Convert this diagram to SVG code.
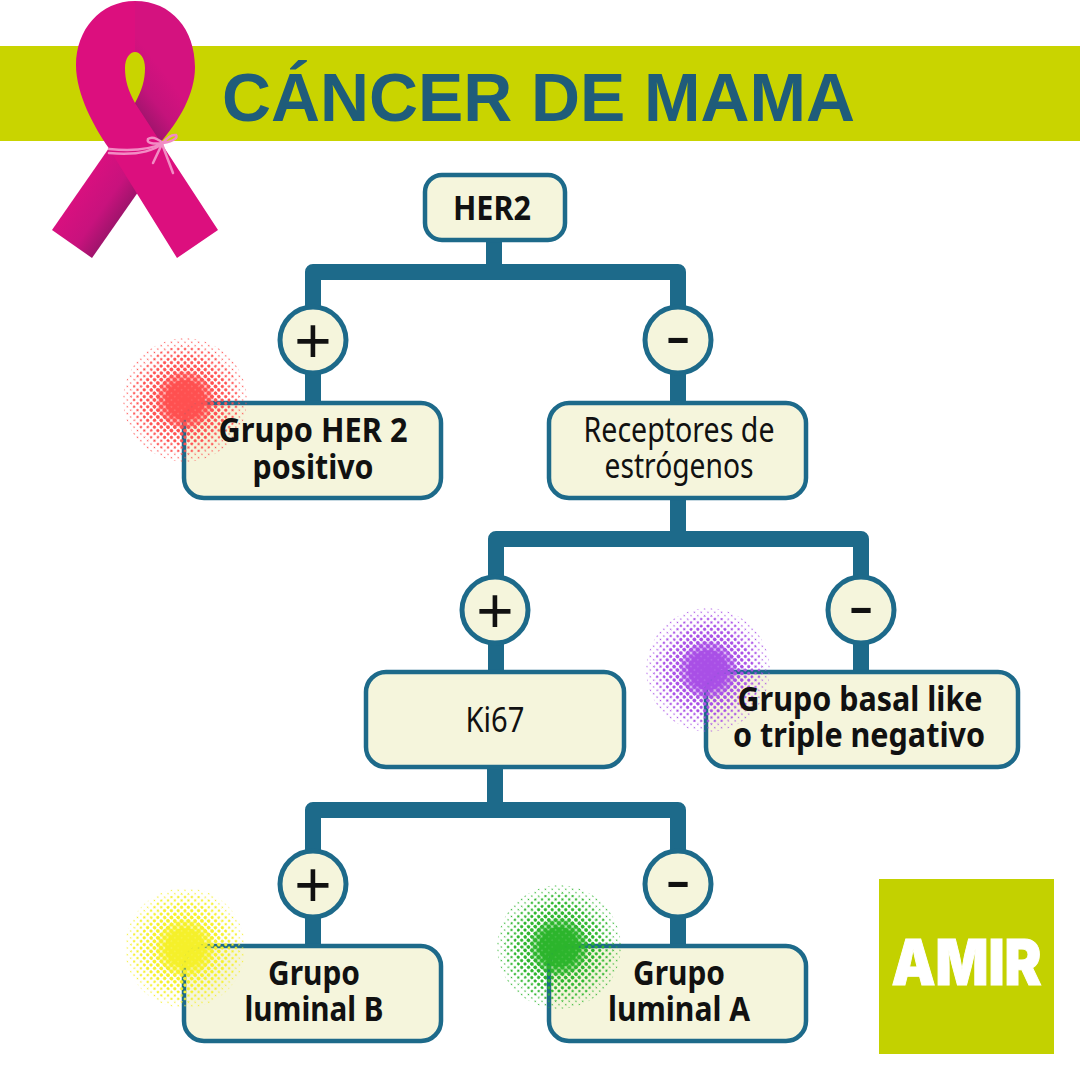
<svg xmlns="http://www.w3.org/2000/svg" width="1080" height="1080" viewBox="0 0 1080 1080">
<style>
.box{fill:#f5f5dc;stroke:#1d6a8a;stroke-width:4.5}
.sign{fill:#f5f5dc;stroke:#1d6a8a;stroke-width:5}
.conn{fill:none;stroke:#1d6a8a;stroke-width:16;stroke-linejoin:round;stroke-linecap:butt}
.t{font-family:"Noto Sans","Open Sans",sans-serif;font-size:34px;fill:#111;text-anchor:middle}
.b{font-weight:700}
.plus{font-family:"Liberation Sans",sans-serif;font-size:64px;fill:#111;text-anchor:middle}
.minus{font-family:"Liberation Sans",sans-serif;font-weight:700;font-size:42px;fill:#111;text-anchor:middle}
</style>
<defs>
<pattern id="d1" width="4.8" height="4.8" patternUnits="userSpaceOnUse" patternTransform="rotate(45)"><circle cx="2.4" cy="2.4" r=".8" fill="#fff"/></pattern>
<pattern id="d2" width="4.8" height="4.8" patternUnits="userSpaceOnUse" patternTransform="rotate(45)"><circle cx="2.4" cy="2.4" r="1.1" fill="#fff"/></pattern>
<pattern id="d3" width="4.8" height="4.8" patternUnits="userSpaceOnUse" patternTransform="rotate(45)"><circle cx="2.4" cy="2.4" r="1.45" fill="#fff"/></pattern>
<pattern id="d4" width="4.8" height="4.8" patternUnits="userSpaceOnUse" patternTransform="rotate(45)"><circle cx="2.4" cy="2.4" r="1.8" fill="#fff"/></pattern>
<pattern id="d5" width="4.8" height="4.8" patternUnits="userSpaceOnUse" patternTransform="rotate(45)"><circle cx="2.4" cy="2.4" r="2.2" fill="#fff"/></pattern>
<pattern id="d6" width="4.8" height="4.8" patternUnits="userSpaceOnUse" patternTransform="rotate(45)"><circle cx="2.4" cy="2.4" r="2.7" fill="#fff"/></pattern>
<radialGradient id="core"><stop offset="0" stop-color="#fff"/><stop offset=".55" stop-color="#fff" stop-opacity=".6"/><stop offset="1" stop-color="#fff" stop-opacity="0"/></radialGradient>
<mask id="ht" maskUnits="userSpaceOnUse" x="-70" y="-70" width="140" height="140">
<circle r="62" fill="url(#d1)"/><circle r="54" fill="url(#d2)"/><circle r="45" fill="url(#d3)"/><circle r="36" fill="url(#d4)"/><circle r="28" fill="url(#d5)"/><circle r="20" fill="url(#d6)"/><circle r="30" fill="url(#core)"/>
</mask>
<linearGradient id="legG" x1="85" y1="180" x2="135" y2="215" gradientUnits="userSpaceOnUse"><stop offset="0" stop-color="#d9107f"/><stop offset=".5" stop-color="#c8127d"/><stop offset="1" stop-color="#8a1563"/></linearGradient>
<linearGradient id="loopG" x1="176" y1="88" x2="132" y2="122" gradientUnits="userSpaceOnUse"><stop offset="0" stop-color="#d4127f"/><stop offset=".45" stop-color="#c4137b"/><stop offset="1" stop-color="#8f1566"/></linearGradient>
</defs>
<rect width="1080" height="1080" fill="#fff"/>
<rect id="banner" x="0" y="46" width="1080" height="95" fill="#c9d400"/>
<text id="title" x="222" y="121" font-family="'Liberation Sans',Arial,sans-serif" font-weight="700" font-size="69" fill="#1f5c7a" textLength="633" lengthAdjust="spacingAndGlyphs">CÁNCER DE MAMA</text>
<g id="ribbon">
<path d="M125,125 L52,230 L92,258 L150,175 Z" fill="url(#legG)"/>
<path d="M135,1 C172,1 195,30 195,67 C195,95 178,122 160,143 L150,150 L120,100 L135,103 C142,90 145,80 145,68 C145,58 140,52 135,52 Z" fill="url(#loopG)"/>
<path d="M135,1 C100,1 76,30 76,65 C76,95 95,128 108,147 L177,258 L218,230 L135,103 C128,90 125,80 125,68 C125,58 130,52 135,52 Z" fill="#dc0f7e"/>
<g fill="none" stroke="#f28cc4" stroke-width="2.5" stroke-linecap="round">
<path d="M109,149 C130,151 150,150 163,143 C175,141 178,137 176,135 C170,134 166,139 163,143 C158,139 152,136 148,139 C146,144 155,144 163,143"/>
<path d="M109,153 C130,155 150,153 162,144"/>
<path d="M162,144 L153,163 M162,144 L173,173"/>
</g>
</g>
<g id="connectors">
<path class="conn" d="M494,240V272M313,402V272H678V402"/>
<path class="conn" d="M678,498V539M496,672V539H861V672"/>
<path class="conn" d="M495,768V810M313,946V810H678V946"/>
</g>
<g id="sign1"><circle class="sign" cx="313" cy="340" r="33"/><text class="plus" x="313" y="362.500">+</text></g>
<g id="sign2"><circle class="sign" cx="678" cy="340" r="33"/><text class="minus" transform="translate(678,352) scale(1.8,1)">-</text></g>
<g id="sign3"><circle class="sign" cx="495" cy="610" r="33"/><text class="plus" x="495" y="632.500">+</text></g>
<g id="sign4"><circle class="sign" cx="861" cy="610" r="33"/><text class="minus" transform="translate(861,622) scale(1.8,1)">-</text></g>
<g id="sign5"><circle class="sign" cx="313" cy="884" r="33"/><text class="plus" x="313" y="906.500">+</text></g>
<g id="sign6"><circle class="sign" cx="678" cy="884" r="33"/><text class="minus" transform="translate(678,896) scale(1.8,1)">-</text></g>
<g id="node-her2"><rect class="box" x="425" y="175" width="140" height="65" rx="17"/><text class="t b" x="492" y="220" textLength="78" lengthAdjust="spacingAndGlyphs">HER2</text></g>
<g id="node-grupo-her2"><rect class="box" x="184" y="403" width="257" height="95" rx="20"/>
<g transform="translate(185,400)"><circle r="62" fill="#ff5050" mask="url(#ht)"/></g>
<text class="t b" x="313" y="442" textLength="189" lengthAdjust="spacingAndGlyphs">Grupo HER 2</text><text class="t b" x="313" y="479" textLength="121" lengthAdjust="spacingAndGlyphs">positivo</text></g>
<g id="node-receptores"><rect class="box" x="549" y="403" width="257" height="95" rx="20"/>
<text class="t" x="679" y="442" textLength="191" lengthAdjust="spacingAndGlyphs">Receptores de</text><text class="t" x="679" y="478" textLength="149" lengthAdjust="spacingAndGlyphs">estrógenos</text></g>
<g id="node-ki67"><rect class="box" x="366" y="672" width="258" height="95" rx="20"/><text class="t" x="495" y="732" textLength="59" lengthAdjust="spacingAndGlyphs">Ki67</text></g>
<g id="node-basal"><rect class="box" x="706" y="672" width="312" height="95" rx="20"/>
<g transform="translate(708,670)"><circle r="62" fill="#a94fe6" mask="url(#ht)"/></g>
<text class="t b" x="860" y="711" textLength="245" lengthAdjust="spacingAndGlyphs">Grupo basal like</text><text class="t b" x="859" y="747" textLength="252" lengthAdjust="spacingAndGlyphs">o triple negativo</text></g>
<g id="node-luminal-b"><rect class="box" x="184" y="946" width="257" height="95" rx="20"/>
<g transform="translate(185,948)"><circle r="60" fill="#f5f02a" mask="url(#ht)"/></g>
<text class="t b" x="314" y="985" textLength="92" lengthAdjust="spacingAndGlyphs">Grupo</text><text class="t b" x="314" y="1021" textLength="139" lengthAdjust="spacingAndGlyphs">luminal B</text></g>
<g id="node-luminal-a"><rect class="box" x="549" y="946" width="257" height="95" rx="20"/>
<g transform="translate(559,947)"><circle r="62" fill="#2cb52c" mask="url(#ht)"/></g>
<text class="t b" x="679" y="985" textLength="92" lengthAdjust="spacingAndGlyphs">Grupo</text><text class="t b" x="679" y="1021" textLength="142" lengthAdjust="spacingAndGlyphs">luminal A</text></g>
<g id="logo"><rect x="879" y="879" width="175" height="175" fill="#c3d100"/>
<text x="966.500" y="985" font-family="Inter,'Liberation Sans',sans-serif" font-weight="900" font-size="63" fill="#fff" stroke="#fff" stroke-width="1" text-anchor="middle" textLength="150" lengthAdjust="spacingAndGlyphs">AMIR</text></g>
</svg>
